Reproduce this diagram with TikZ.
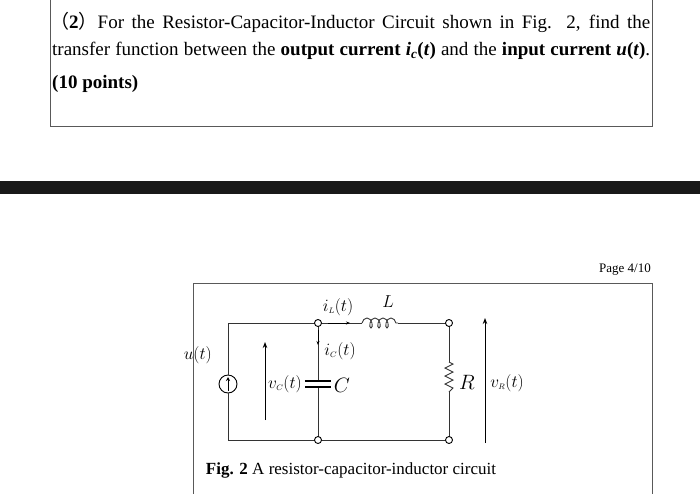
\documentclass[tikz,border=0pt]{standalone}
\usepackage{fontspec}
\setmainfont{Liberation Serif}
\newfontfamily\cjk{Noto Sans CJK SC}
\usetikzlibrary{arrows.meta,decorations.pathmorphing}
\begin{document}
\begin{tikzpicture}[x=1pt,y=-1pt,
  wire/.style={line width=0.9pt,black!80},
  term/.style={circle,draw,line width=0.9pt,fill=white,inner sep=0pt,minimum size=7pt},
  lbl/.style={inner sep=0pt,font=\fontsize{19}{21}\selectfont},
  sl/.style={inner sep=0pt,font=\fontsize{17}{19}\selectfont},
  arr/.style={line width=0.9pt,-{Stealth[length=6pt]}}]
\useasboundingbox (0,0) rectangle (700,493);
% top box
\draw[line width=0.8pt,gray!70!black] (50,-2) -- (50,126) -- (652,126) -- (652,-2);
\node[lbl,anchor=west] (l1) at (50,22) {\makebox[600pt][s]{{\cjk （}\textbf{2}{\cjk ）}For the Resistor-Capacitor-Inductor Circuit shown in Fig. 2, find the}};
\node[lbl,anchor=west] (l2) at (52,51) {\makebox[598pt][s]{transfer function between the \textbf{output current} \textbf{\textit{i\textsubscript{c}}(\textit{t})} and the \textbf{input current} \textbf{\textit{u}(\textit{t})}.}};
\node[lbl,anchor=west] (l3) at (52,84) {\textbf{(10 points)}};
% bar
\fill[black!90] (0,181) rectangle (700,194);
\node[inner sep=0pt,anchor=east,font=\fontsize{13}{15}\selectfont] (pg) at (651,270) {Page 4/10};
% lower box
\draw[line width=0.8pt,gray!70!black] (193,500) -- (193,283) -- (652,283) -- (652,500);
% circuit
\coordinate (tl) at (228,323); \coordinate (bl) at (228,440);
\coordinate (ltop) at (318,323); \coordinate (lbot) at (318,440);
\coordinate (rtop) at (449,323); \coordinate (rbot) at (449,440);
\coordinate (ia) at (362,323); \coordinate (ib) at (398,323);
\node[circle,draw,line width=0.9pt,minimum size=18pt,inner sep=0pt] (src) at (228,384) {};
\draw[line width=1pt,-{Stealth[length=4pt,width=4pt]}] (228,391) -- (228,377);
\draw[wire] (src.north) -- (tl) -- (ltop);
\draw[wire] (src.south) -- (bl) -- (lbot);
\draw[wire] (ltop) -- (ia);
\draw[wire,decorate,decoration={coil,aspect=0.6,segment length=8pt,amplitude=5pt}] (ia) -- (ib);
\draw[wire] (ib) -- (rtop);
\draw[wire] (lbot) -- (rbot);
\draw[wire] (ltop) -- (318,381) (318,387) -- (lbot);
\draw[line width=1.8pt] (305,381) -- (331,381) (305,387) -- (331,387);
\draw[wire] (rtop) -- (449,362);
\draw[wire] (449,362) -- (453,364) -- (445,368) -- (453,372) -- (445,376) -- (453,380) -- (445,384) -- (453,388) -- (449,392);
\draw[wire] (449,392) -- (rbot);
\node[term] (n1) at (ltop) {}; \node[term] (n2) at (lbot) {};
\node[term] (n3) at (rtop) {}; \node[term] (n4) at (rbot) {};
\draw[line width=0.7pt,-{Stealth[length=4pt]}] (n1) ++(10,0) -- (350,323);
\draw[line width=0.7pt,-{Stealth[length=4pt]}] (318,330) -- (318,345);
\draw[arr] (265,420) -- (265,342);
\draw[arr] (485,443) -- (485,318);
\node[lbl,anchor=east] (u) at (212,355) {$u(t)$};
\node[sl] (iL) at (338,307) {$i_{\scriptscriptstyle L}(t)$};
\node[lbl] (L) at (388,302) {$L$};
\node[sl] (iC) at (340,351) {$i_{\scriptscriptstyle C}(t)$};
\node[sl] (vC) at (285,384) {$v_{\scriptscriptstyle C}(t)$};
\node[lbl,font=\fontsize{21}{23}\selectfont] (C) at (342,385) {$C$};
\node[lbl,font=\fontsize{21}{23}\selectfont] (R) at (467,382) {$R$};
\node[sl] (vR) at (507,383) {$v_{\scriptscriptstyle R}(t)$};
\node[inner sep=0pt,font=\fontsize{17}{19}\selectfont] (cap) at (351,470) {\textbf{Fig. 2} A resistor-capacitor-inductor circuit};
\end{tikzpicture}
\end{document}
